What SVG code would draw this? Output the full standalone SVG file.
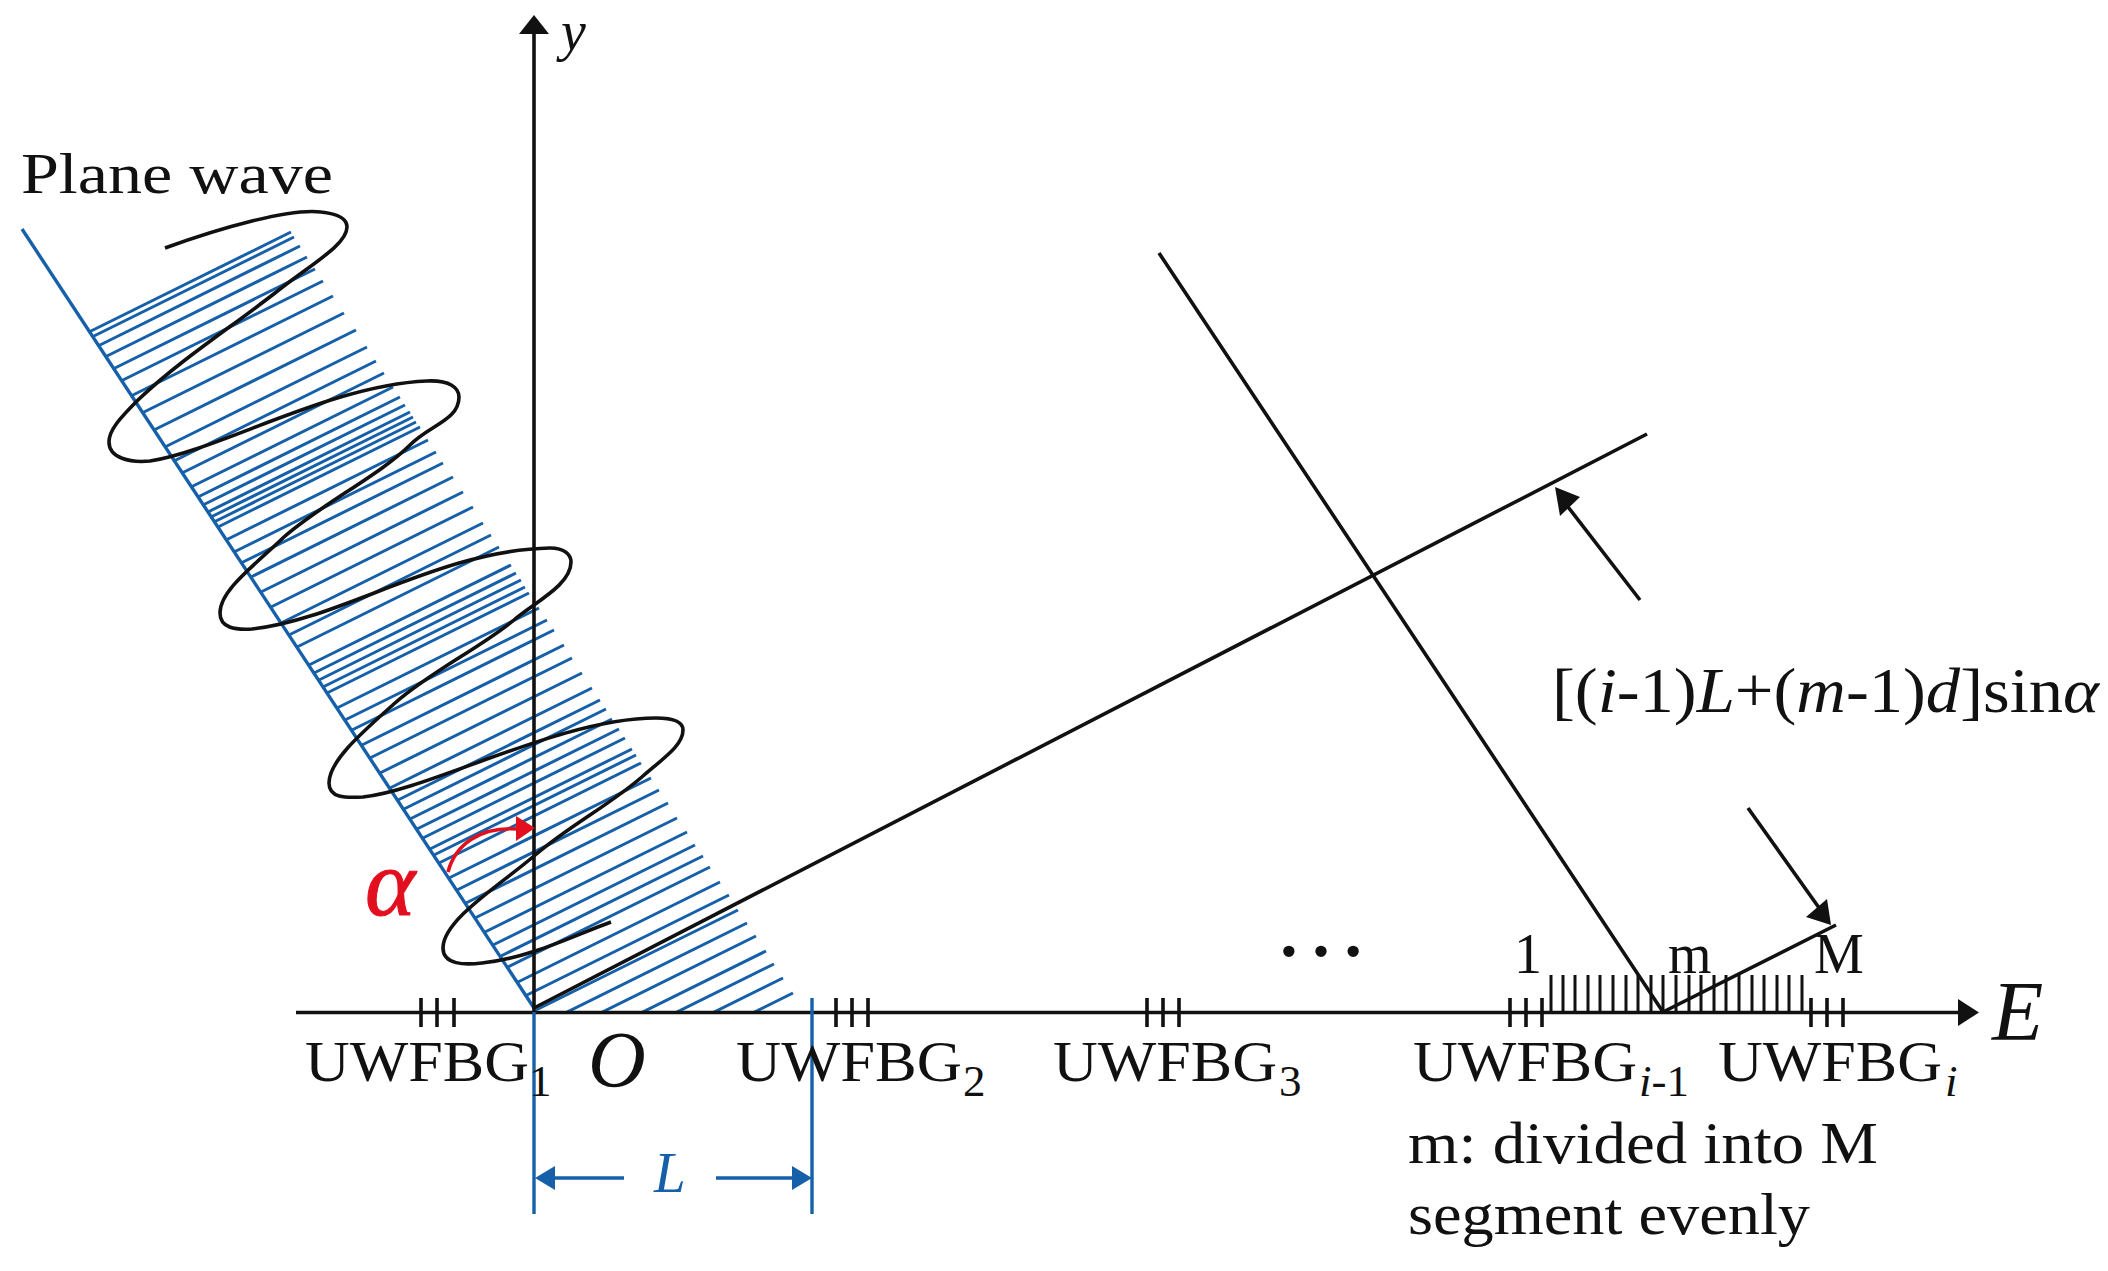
<svg xmlns="http://www.w3.org/2000/svg" width="2108" height="1271" viewBox="0 0 2108 1271">
<style>
text{font-family:"Liberation Serif","Times New Roman",serif;fill:#111}
.it{font-style:italic}
.k{stroke:#111;stroke-width:3.6;fill:none}
.b{stroke:#1560a8;stroke-width:3.4;fill:none}
.lab{font-size:56px}
.sub{font-size:45px}
.fb{fill:#111}
.fl{fill:#1560a8}
</style>
<defs>
<clipPath id="hatchClip"><rect x="0" y="0" width="2108" height="1012"/></clipPath>
</defs>
<rect width="2108" height="1271" fill="#fff"/>
<g id="hatching" clip-path="url(#hatchClip)">
<path class="b" style="stroke-width:3" d="M291 232l-202 100M294 237l-202 100M300 246l-202 100M307 257l-202 100M315 269l-202 100M323 281l-202 100M333 296l-202 100M344 313l-202 100M356 330l-202 100M367 347l-202 100M376 361l-202 100M384 373l-202 100M393 387l-202 100M400 397l-202 100M405 405l-202 100M410 412l-202 100M413 417l-202 100M416 422l-202 100M420 427l-202 100M428 440l-202 100M436 452l-202 100M443 463l-202 100M453 477l-202 100M463 492l-202 100M473 507l-202 100M483 523l-202 100M491 535l-202 100M499 547l-202 100M511 565l-202 100M516 573l-202 100M521 580l-202 100M525 587l-202 100M529 593l-202 100M539 608l-202 100M547 620l-202 100M554 630l-202 100M564 645l-202 100M572 658l-202 100M582 673l-202 100M592 688l-202 100M600 700l-202 100M606 709l-202 100M612 719l-202 100M619 729l-202 100M625 738l-202 100M632 749l-202 100M636 755l-202 100M641 763l-202 100M651 778l-202 100M659 790l-202 100M668 803l-202 100M677 818l-202 100M687 832l-202 100M695 845l-202 100M703 856l-202 100M710 867l-202 100M720 882l-202 100M729 895l-202 100M738 910l-202 100M747 923l-202 100M756 936l-202 100M766 951l-202 100M774 964l-202 100M783 978l-202 100M793 993l-202 100"/>
</g>
<g id="connectors">
<path id="front-line" class="b" d="M22 229L534 1008"/>
<path id="wave" class="k" d="M165 248C220 228 290 208 321 212C340 214 347 220 347 227C347 245 310 265 275 293C230 328 180 360 138 400C120 418 109 430 109 442C109 458 130 463 150 461C220 450 330 385 427 381C450 380 459 388 459 397C459 420 430 425 410 445C380 475 320 505 284 537C255 565 220 590 220 613C220 628 235 630 252 629C340 620 440 550 550 548C565 548 571 555 571 562C571 585 535 602 514 620C480 648 430 672 395 703C365 730 329 760 329 783C329 798 345 798 363 797C430 790 560 718 656 718C675 718 683 722 683 730C683 745 665 757 643 776C610 805 570 825 534 856C500 885 443 920 443 948C443 965 465 965 482 963C530 958 575 935 611 922"/>
<path id="y-axis" class="k" d="M534 1012V30"/>
<polygon class="fb" points="534,15 519,34 549,34"/>
<path id="x-axis" class="k" d="M296 1012.500H1962"/>
<polygon class="fb" points="1979,1012.500 1958,999 1958,1026"/>
<path id="ticks" class="k" d="M421 998V1027M437 998V1027M454 998V1027M836 998V1027M852 998V1027M868 998V1027M1147 998V1027M1163 998V1027M1179 998V1027M1510 998V1027M1526 998V1027M1542 998V1027M1811 998V1027M1827 998V1027M1843 998V1027"/>
<path id="comb" class="k" style="stroke-width:3" d="M1551 975V1012M1563 975V1012M1575 975V1012M1588 975V1012M1600 975V1012M1613 975V1012M1626 975V1012M1638 975V1012M1651 975V1012M1663 975V1012M1676 975V1012M1689 975V1012M1701 975V1012M1714 975V1012M1726 975V1012M1739 975V1012M1752 975V1012M1764 975V1012M1777 975V1012M1789 975V1012M1802 975V1012"/>
<path id="wavefront-1" class="k" d="M534 1008L1647 434"/>
<path id="wavefront-2" class="k" d="M1159 253L1663 1012L1836 925"/>
<path id="delay-arrow-up" class="k" d="M1640 600L1565 503"/>
<polygon class="fb" points="1555,487 1580,497 1560,516"/>
<path id="delay-arrow-down" class="k" d="M1748 808L1822 912"/>
<polygon class="fb" points="1831,925 1806,917 1827,899"/>
<path id="L-left" class="b" d="M534 1012V1214"/>
<path id="L-right" class="b" d="M812 998V1214"/>
<path id="L-arrow-l" class="b" d="M550 1178H624"/>
<polygon class="fl" points="535,1178 555,1166 555,1190"/>
<path id="L-arrow-r" class="b" d="M716 1178H796"/>
<polygon class="fl" points="812,1178 792,1166 792,1190"/>
<path id="alpha-arc" fill="none" stroke="#e2101f" stroke-width="3.6" d="M448 872C455 845 480 826 518 829"/>
<polygon fill="#e2101f" points="535,828 516,816 516,841"/>
</g>
<g id="labels">
<text x="21" y="193" font-size="58" textLength="312" lengthAdjust="spacingAndGlyphs">Plane wave</text>
<text class="it" x="561" y="50" font-size="56">y</text>
<text class="it" x="1992" y="1040" font-size="84">E</text>
<text class="it" x="588" y="1087" font-size="80">O</text>
<text class="it" x="654" y="1192" font-size="57" style="fill:#1560a8">L</text>
<text class="it" x="365" y="915" font-size="96" stroke="#e2101f" stroke-width="1" style="fill:#e2101f">α</text>
<text x="1273" y="956" font-size="96">…</text>
<text class="lab" x="1514" y="973">1</text>
<text class="lab" x="1668" y="973">m</text>
<text class="lab" x="1814" y="973">M</text>
<g id="uwfbg1"><text class="lab" x="305" y="1081" textLength="224" lengthAdjust="spacingAndGlyphs">UWFBG</text><text class="sub" x="529" y="1096">1</text></g>
<g id="uwfbg2"><text class="lab" x="736" y="1081" textLength="226" lengthAdjust="spacingAndGlyphs">UWFBG</text><text class="sub" x="963" y="1096">2</text></g>
<g id="uwfbg3"><text class="lab" x="1053" y="1081" textLength="224" lengthAdjust="spacingAndGlyphs">UWFBG</text><text class="sub" x="1279" y="1096">3</text></g>
<g id="uwfbgi1"><text class="lab" x="1413" y="1081" textLength="224" lengthAdjust="spacingAndGlyphs">UWFBG</text><text class="sub" x="1639" y="1096"><tspan class="it">i</tspan>-1</text></g>
<g id="uwfbgi"><text class="lab" x="1718" y="1081" textLength="224" lengthAdjust="spacingAndGlyphs">UWFBG</text><text class="sub it" x="1945" y="1096">i</text></g>
<text x="1408" y="1163" font-size="59" textLength="470" lengthAdjust="spacingAndGlyphs">m: divided into M</text>
<text x="1408" y="1234" font-size="59" textLength="402" lengthAdjust="spacingAndGlyphs">segment evenly</text>
<text x="1552" y="712" font-size="63" textLength="547" lengthAdjust="spacingAndGlyphs">[(<tspan class="it">i</tspan>-1)<tspan class="it">L</tspan>+(<tspan class="it">m</tspan>-1)<tspan class="it">d</tspan>]sin<tspan class="it">α</tspan></text>
</g>
</svg>
